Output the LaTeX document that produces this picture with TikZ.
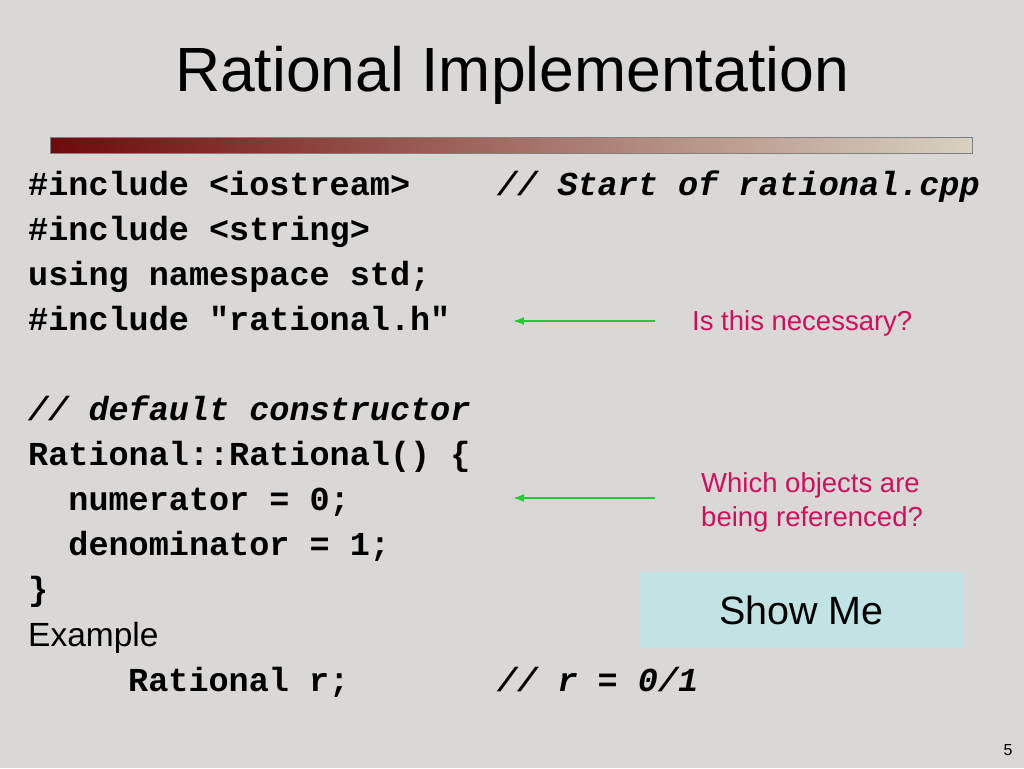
\documentclass[tikz,border=0pt]{standalone}
\usepackage{fontspec}
\setmainfont{Liberation Sans}
\setmonofont{Liberation Mono}
\usepackage{xcolor}
\usetikzlibrary{arrows.meta}
\definecolor{bgray}{HTML}{D9D8D6}
\definecolor{cmtpink}{HTML}{D0105F}
\definecolor{arrgreen}{HTML}{22CC33}
\definecolor{showbg}{HTML}{C2E3E3}
\definecolor{barred}{HTML}{6E0A0A}
\definecolor{barend}{HTML}{D8D2C0}

\begin{document}
\begin{tikzpicture}[x=1pt,y=-1pt]
    \tikzstyle{code}=[anchor=base west,inner sep=0pt,font=\fontsize{33.5}{36}\selectfont\ttfamily\bfseries]
    \tikzstyle{comment}=[code,font=\fontsize{33.5}{36}\selectfont\ttfamily\bfseries\itshape]
    \tikzstyle{note}=[anchor=west,inner sep=0pt,text=cmtpink,font=\fontsize{27.5}{34}\selectfont,align=left]
    \tikzstyle{pointer}=[draw=arrgreen,line width=1.8pt,-{Latex[length=11pt,width=8pt]}]

    % background and title bar
    \fill[bgray] (0,0) rectangle (1024,768);
    \useasboundingbox (0,0) rectangle (1024,768);
    \node[font=\fontsize{62.5}{66}\selectfont] (title) at (512,75) {Rational Implementation};
    \shade[left color=barred,right color=barend,draw=gray] (50,137) rectangle (972,153);

    % code listing
    \node[code] (l1) at (28,195) {\#include <iostream>};
    \node[code] (l2) at (28,240) {\#include <string>};
    \node[code] (l3) at (28,285) {using namespace std;};
    \node[code] (l4) at (28,330) {\#include "rational.h"};
    \node[comment] (l6) at (28,420) {// default constructor};
    \node[code] (l7) at (28,465) {Rational::Rational() \{};
    \node[code] (l8) at (28,510) {\ \ numerator = 0;};
    \node[code] (l9) at (28,555) {\ \ denominator = 1;};
    \node[code] (l10) at (28,600) {\}};
    \node[anchor=base west,inner sep=0pt,font=\fontsize{33.5}{36}\selectfont] (ex) at (28,646) {Example};
    \node[code] (l12) at (128,691) {Rational r;};
    \node[comment] (c1) at (497,195) {// Start of rational.cpp};
    \node[comment] (c12) at (497,691) {// r = 0/1};

    % notes
    \node[note] (n1) at (692,323) {Is this necessary?};
    \node[note] (n2) at (701,502) {Which objects are\\being referenced?};
    \coordinate (a1) at (655,321);
    \coordinate (b1) at (513,321);
    \coordinate (a2) at (655,498);
    \coordinate (b2) at (513,498);
    \draw[pointer] (a1) -- (b1);
    \draw[pointer] (a2) -- (b2);

    \node[fill=showbg,minimum width=323pt,minimum height=76pt,font=\fontsize{39.5}{42}\selectfont] (show) at (801.5,610) {Show Me};
    \node[font=\fontsize{16}{18}\selectfont] (page) at (1008,750) {5};
\end{tikzpicture}
\end{document}
